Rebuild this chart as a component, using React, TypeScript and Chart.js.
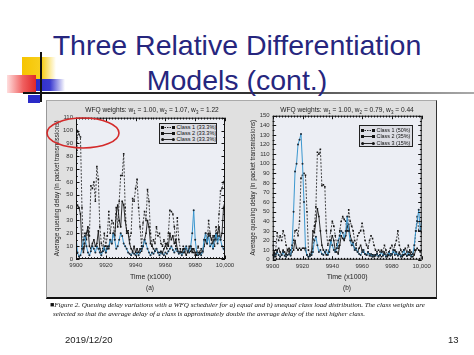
import React, { useEffect, useRef } from "react";
import { Chart, registerables } from "chart.js";
Chart.register(...registerables);

const FONT = '"Liberation Sans", Arial, sans-serif';

// time grid (x1000), one sample per unit
const TIMES: number[] = [];
for (let t = 9900; t <= 10000; t++) TIMES.push(t);

const X_TICK_LABELS: Record<number, string> = {
  9900: "9900", 9920: "9920", 9940: "9940", 9960: "9960", 9980: "9980", 10000: "10,000",
};

// (a) equal load
const A_LABELS = ["Class 1 (33.3%)", "Class 2 (33.3%)", "Class 3 (33.3%)"];
const A_CLASS1 = [60, 100, 97, 95, 40, 8, 20, 15, 22, 18, 57, 55, 60, 45, 72, 62, 25, 12, 8, 20,
  10, 18, 37, 20, 30, 28, 15, 40, 25, 45, 65, 65, 82, 40, 20, 22, 15, 20, 47, 45,
  55, 62, 40, 25, 10, 28, 37, 30, 54, 45, 20, 10, 15, 12, 25, 18, 20, 12, 10, 15,
  12, 8, 20, 38, 37, 35, 25, 10, 32, 15, 8, 5, 10, 6, 8, 5, 10, 6, 8, 5,
  3, 6, 10, 5, 8, 5, 15, 20, 12, 30, 20, 15, 18, 10, 25, 15, 35, 53, 55, 60, 62];
const A_CLASS2 = [38, 42, 40, 35, 10, 5, 12, 20, 25, 10, 8, 12, 15, 10, 12, 22, 8, 5, 6, 8,
  5, 10, 8, 15, 12, 20, 18, 35, 42, 30, 25, 45, 42, 30, 22, 20, 12, 8, 6, 10,
  5, 8, 5, 8, 6, 10, 15, 20, 30, 25, 12, 10, 8, 6, 8, 5, 5, 6, 5, 8,
  10, 12, 10, 20, 15, 18, 12, 15, 8, 5, 6, 5, 8, 5, 3, 6, 8, 10, 5, 8,
  5, 3, 5, 4, 5, 6, 10, 15, 12, 20, 18, 15, 12, 18, 15, 20, 25, 15, 20, 40, 45];
const A_CLASS3 = [18, 5, 2, 3, 8, 15, 18, 10, 5, 3, 6, 10, 8, 5, 10, 8, 5, 3, 6, 10,
  5, 8, 10, 15, 12, 20, 15, 8, 10, 15, 20, 18, 12, 10, 8, 5, 4, 3, 5, 4,
  3, 5, 3, 5, 8, 10, 15, 12, 8, 5, 3, 5, 4, 6, 8, 5, 3, 5, 4, 3,
  5, 4, 6, 8, 10, 7, 5, 8, 6, 4, 5, 3, 5, 8, 10, 6, 5, 10, 20, 38,
  15, 5, 3, 4, 3, 6, 15, 20, 12, 18, 10, 12, 8, 15, 20, 12, 18, 15, 10, 8, 5];

// (b) unequal load
const B_LABELS = ["Class 1 (50%)", "Class 2 (35%)", "Class 3 (15%)"];
const B_CLASS1 = [15, 5, 10, 28, 20, 25, 20, 30, 25, 15, 10, 8, 10, 12, 20, 30, 31, 25, 40, 85,
  88, 90, 88, 50, 10, 5, 8, 12, 35, 55, 112, 110, 115, 77, 78, 76, 30, 15, 20, 30,
  40, 35, 25, 15, 12, 30, 40, 45, 42, 40, 30, 52, 40, 35, 30, 20, 15, 25, 28, 30,
  38, 30, 20, 15, 12, 20, 25, 22, 15, 10, 8, 10, 8, 10, 8, 15, 10, 5, 8, 12,
  15, 10, 15, 20, 30, 15, 10, 8, 10, 12, 8, 15, 10, 8, 6, 10, 30, 45, 30, 30, 28];
const B_CLASS2 = [5, 8, 3, 10, 12, 8, 5, 10, 8, 5, 10, 12, 5, 8, 10, 20, 12, 10, 12, 10,
  12, 12, 10, 5, 3, 4, 5, 30, 28, 40, 53, 45, 30, 15, 10, 8, 5, 6, 10, 20,
  25, 20, 10, 8, 6, 15, 25, 22, 20, 25, 35, 37, 25, 20, 15, 12, 10, 8, 12, 15,
  10, 8, 6, 5, 8, 6, 4, 5, 3, 5, 6, 4, 5, 3, 5, 8, 4, 3, 5, 6,
  5, 8, 10, 6, 5, 8, 4, 3, 5, 6, 4, 5, 8, 5, 3, 5, 10, 12, 10, 8, 10];
const B_CLASS3 = [5, 3, 6, 8, 5, 3, 5, 8, 4, 3, 5, 6, 4, 15, 50, 92, 100, 120, 125, 131,
  100, 60, 12, 5, 3, 4, 5, 8, 20, 24, 15, 8, 10, 6, 5, 8, 10, 5, 8, 20,
  15, 10, 8, 12, 20, 25, 30, 28, 22, 30, 45, 30, 20, 15, 18, 10, 12, 8, 6, 5,
  8, 10, 6, 5, 8, 4, 6, 3, 5, 4, 6, 3, 5, 8, 4, 6, 3, 5, 8, 4,
  6, 10, 5, 8, 4, 6, 3, 5, 10, 6, 4, 8, 5, 3, 6, 15, 30, 40, 52, 30, 40];

const BLUE = "#3b97cf";
const INK = "#151515";

const bgPlugin = {
  id: "plotBg",
  beforeDraw(chart: any) {
    const { ctx, chartArea: a } = chart;
    ctx.save();
    ctx.fillStyle = "#eceef4";
    ctx.fillRect(a.left, a.top, a.right - a.left, a.bottom - a.top);
    ctx.restore();
  },
};

const framePlugin = {
  id: "plotFrame",
  afterDatasetsDraw(chart: any) {
    const { ctx, chartArea: a, scales } = chart;
    const xs = scales.x, ys = scales.y;
    ctx.save();
    ctx.strokeStyle = "#111";
    ctx.lineWidth = 1;
    ctx.strokeRect(a.left + 0.5, a.top + 0.5, a.right - a.left - 1, a.bottom - a.top - 1);
    ctx.beginPath();
    for (let v = xs.min; v <= xs.max; v += 2) {
      const px = Math.round(xs.getPixelForValue(v)) + 0.5;
      const len = (v - xs.min) % 20 === 0 ? 3.5 : 1.8;
      ctx.moveTo(px, a.top); ctx.lineTo(px, a.top + len);
      ctx.moveTo(px, a.bottom); ctx.lineTo(px, a.bottom - len);
    }
    for (let v = ys.min; v <= ys.max; v += 5) {
      const py = Math.round(ys.getPixelForValue(v)) + 0.5;
      const len = v % 10 === 0 ? 3.5 : 1.8;
      ctx.moveTo(a.left, py); ctx.lineTo(a.left + len, py);
      ctx.moveTo(a.right, py); ctx.lineTo(a.right - len, py);
    }
    ctx.stroke();
    ctx.restore();
  },
};

type ChartProps = {
  left: number; top: number; width: number; height: number;
  padTop: number; padRight: number; yAxisWidth: number; yTitlePad: number; xAxisHeight: number;
  yMax: number; series: number[][]; labels: string[];
};

function TimeChart(p: ChartProps) {
  const ref = useRef<HTMLCanvasElement | null>(null);
  useEffect(() => {
    if (!ref.current) return;
    const mk = (arr: number[]) => TIMES.map((t, i) => ({ x: t, y: arr[i] }));
    const chart = new Chart(ref.current, {
      type: "line",
      data: {
        datasets: [
          {
            label: p.labels[2], data: mk(p.series[2]), borderColor: BLUE, borderWidth: 1,
            pointStyle: "circle", pointRadius: 1, pointBackgroundColor: "#1c2a36", pointBorderWidth: 0,
            tension: 0, order: 0,
          },
          {
            label: p.labels[1], data: mk(p.series[1]), borderColor: INK, borderWidth: 0.9,
            pointStyle: "rect", pointRadius: 1.1, pointBackgroundColor: INK, pointBorderWidth: 0,
            tension: 0, order: 1,
          },
          {
            label: p.labels[0], data: mk(p.series[0]), borderColor: INK, borderWidth: 0.8,
            borderDash: [2, 1.5],
            pointStyle: "rect", pointRadius: 1.1, pointBackgroundColor: INK, pointBorderWidth: 0,
            tension: 0, order: 2,
          },
        ],
      },
      options: {
        animation: false,
        responsive: false,
        maintainAspectRatio: false,
        layout: { padding: { top: p.padTop, right: p.padRight, bottom: 0, left: 0 } },
        plugins: { legend: { display: false }, tooltip: { enabled: false }, title: { display: false } },
        scales: {
          x: {
            type: "linear", min: 9900, max: 10000,
            grid: { display: false, drawTicks: false }, border: { display: false },
            ticks: {
              stepSize: 20, autoSkip: false, maxRotation: 0, padding: 3, color: "#333",
              font: { size: 6, family: FONT },
              callback: (v: any) => X_TICK_LABELS[Number(v)] ?? "",
            },
            title: {
              display: true, text: "Time (x1000)", color: "#222",
              font: { size: 7, family: FONT }, padding: { top: 0, bottom: 11 },
            },
            afterFit: (s: any) => { s.height = p.xAxisHeight; },
          },
          y: {
            min: 0, max: p.yMax,
            grid: { display: false, drawTicks: false }, border: { display: false },
            ticks: { stepSize: 10, autoSkip: false, padding: 3, color: "#333", font: { size: 6, family: FONT } },
            title: {
              display: true, text: "Average queuing delay (in packet transmissions)", color: "#222",
              font: { size: 6.3, family: FONT }, padding: { top: p.yTitlePad, bottom: 0 },
            },
            afterFit: (s: any) => { s.width = p.yAxisWidth; },
          },
        },
      },
      plugins: [bgPlugin, framePlugin],
    } as any);
    return () => chart.destroy();
  }, []);
  return (
    <canvas
      ref={ref}
      width={p.width}
      height={p.height}
      style={{ position: "absolute", left: p.left, top: p.top, width: p.width, height: p.height }}
    />
  );
}

function LegendSample({ kind }: { kind: number }) {
  const dash = kind === 0 ? "1.5 1" : undefined;
  return (
    <svg width={14} height={5} style={{ display: "block" }}>
      <line x1={1} y1={2.5} x2={13} y2={2.5} stroke="#111" strokeWidth={0.9} strokeDasharray={dash} />
      {kind === 2 ? (
        <>
          <circle cx={1.6} cy={2.5} r={1.5} fill="#111" />
          <circle cx={12.4} cy={2.5} r={1.5} fill="#111" />
        </>
      ) : (
        <>
          <rect x={0} y={1} width={3} height={3} fill="#111" />
          <rect x={11} y={1} width={3} height={3} fill="#111" />
        </>
      )}
    </svg>
  );
}

function Legend({ left, top, width, height, labels, rowTops, fontSize }: {
  left: number; top: number; width: number; height: number; labels: string[]; rowTops: number[]; fontSize: number;
}) {
  return (
    <div style={{
      position: "absolute", left, top, width, height, boxSizing: "border-box",
      background: "#dcdde4", border: "1px solid #222",
    }}>
      {labels.map((l, i) => (
        <div key={l} style={{ position: "absolute", left: 1, top: rowTops[i], display: "flex", alignItems: "center", height: 5 }}>
          <LegendSample kind={i} />
          <span style={{ marginLeft: 1.5, fontFamily: FONT, fontSize, color: "#111", whiteSpace: "nowrap", lineHeight: "5px" }}>{l}</span>
        </div>
      ))}
    </div>
  );
}

function Weights({ cx, cy, w }: { cx: number; cy: number; w: string[] }) {
  return (
    <div style={{
      position: "absolute", left: cx - 100, top: cy - 5, width: 200, height: 10, textAlign: "center",
      fontFamily: FONT, fontSize: 6.6, color: "#222", lineHeight: "10px", whiteSpace: "nowrap",
    }}>
      WFQ weights: w<sub style={{ fontSize: 4.5 }}>1</sub> = {w[0]}, w<sub style={{ fontSize: 4.5 }}>2</sub> = {w[1]}, w<sub style={{ fontSize: 4.5 }}>3</sub> = {w[2]}
    </div>
  );
}

const WEIGHTS_A = ["1.00", "1.07", "1.22"];
const WEIGHTS_B = ["1.00", "0.79", "0.44"];

export default function App() {
  return (
    <div style={{ position: "absolute", left: 0, top: 0, width: 474, height: 355, overflow: "hidden", background: "#fff" }}>
      {/* decoration */}
      <div style={{ position: "absolute", left: 22, top: 57, width: 34, height: 24, background: "linear-gradient(90deg,#f6c400 0%,#f8d020 60%,rgba(255,230,120,0) 100%)" }} />
      <div style={{ position: "absolute", left: 35, top: 79, width: 30, height: 12, background: "linear-gradient(90deg,#2a2ac8 0%,#3a3ad0 50%,rgba(120,120,230,0) 100%)" }} />
      <div style={{ position: "absolute", left: 7, top: 75, width: 29, height: 18, background: "linear-gradient(90deg,rgba(255,200,200,0.6) 0%,#f06060 55%,#e02828 100%)" }} />
      <div style={{ position: "absolute", left: 28, top: 95, width: 12, height: 8, background: "#2a2ac8" }} />
      <div style={{ position: "absolute", left: 40, top: 52, width: 1.5, height: 50, background: "#111" }} />
      <div style={{ position: "absolute", left: 23, top: 92, width: 451, height: 1.5, background: "linear-gradient(90deg,#111 0%,#333 50%,#aaa 100%)" }} />

      {/* slide title */}
      <div style={{ position: "absolute", left: 0, top: 31, width: 474, textAlign: "center", fontFamily: FONT, fontSize: 28.5, lineHeight: "28.5px", color: "#26267e", whiteSpace: "nowrap" }}>
        Three Relative Differentiation
      </div>
      <div style={{ position: "absolute", left: 0, top: 66, width: 474, textAlign: "center", fontFamily: FONT, fontSize: 28.5, lineHeight: "28.5px", color: "#26267e", whiteSpace: "nowrap" }}>
        Models (cont.)
      </div>

      {/* figure panel */}
      <div style={{ position: "absolute", left: 46, top: 100, width: 391, height: 199, boxSizing: "border-box", background: "#e0e0e0", borderTop: "1px solid #aaa", borderLeft: "1px solid #999", borderRight: "1px solid #333", borderBottom: "2px solid #111" }} />

      <TimeChart left={46} top={100} width={194} height={192} padTop={17.7} padRight={15}
        yAxisWidth={30} yTitlePad={7} xAxisHeight={33} yMax={110}
        series={[A_CLASS1, A_CLASS2, A_CLASS3]} labels={A_LABELS} />
      <TimeChart left={248} top={100} width={188} height={192} padTop={15.7} padRight={14.3}
        yAxisWidth={24.7} yTitlePad={1} xAxisHeight={32.3} yMax={150}
        series={[B_CLASS1, B_CLASS2, B_CLASS3]} labels={B_LABELS} />

      <Weights cx={152} cy={110} w={WEIGHTS_A} />
      <Weights cx={347} cy={110} w={WEIGHTS_B} />

      <Legend left={159} top={122.7} width={58} height={21.5} labels={A_LABELS} rowTops={[1, 7.3, 13.8]} fontSize={5.6} />
      <Legend left={359} top={124.5} width={54} height={22} labels={B_LABELS} rowTops={[2.3, 8.7, 15]} fontSize={5.4} />

      <div style={{ position: "absolute", left: 140, top: 284, width: 20, textAlign: "center", fontFamily: FONT, fontSize: 6.5, lineHeight: "8px", color: "#222" }}>(a)</div>
      <div style={{ position: "absolute", left: 337, top: 284, width: 20, textAlign: "center", fontFamily: FONT, fontSize: 6.5, lineHeight: "8px", color: "#222" }}>(b)</div>

      {/* red annotation ellipse */}
      <svg width={474} height={355} style={{ position: "absolute", left: 0, top: 0, pointerEvents: "none" }}>
        <ellipse cx={83} cy={133} rx={36} ry={15} fill="none" stroke="#d42a2a" strokeWidth={1.6} />
      </svg>

      {/* caption */}
      <div style={{ position: "absolute", left: 50, top: 301, fontFamily: '"Liberation Serif", serif', fontStyle: "italic", fontSize: 7, lineHeight: "9px", color: "#111", whiteSpace: "nowrap" }}>
        <span style={{ fontStyle: "normal" }}>■</span>Figure 2. Queuing delay variations with a WFQ scheduler for a) equal and b) unequal class load distribution. The class weights are
      </div>
      <div style={{ position: "absolute", left: 53, top: 310, fontFamily: '"Liberation Serif", serif', fontStyle: "italic", fontSize: 7, lineHeight: "9px", color: "#111", whiteSpace: "nowrap" }}>
        selected so that the average delay of a class is approximately double the average delay of the next higher class.
      </div>

      {/* footer */}
      <div style={{ position: "absolute", left: 65, top: 334, fontFamily: FONT, fontSize: 9.5, lineHeight: "12px", color: "#222" }}>2019/12/20</div>
      <div style={{ position: "absolute", left: 448, top: 334, fontFamily: FONT, fontSize: 9.5, lineHeight: "12px", color: "#222" }}>13</div>
    </div>
  );
}
